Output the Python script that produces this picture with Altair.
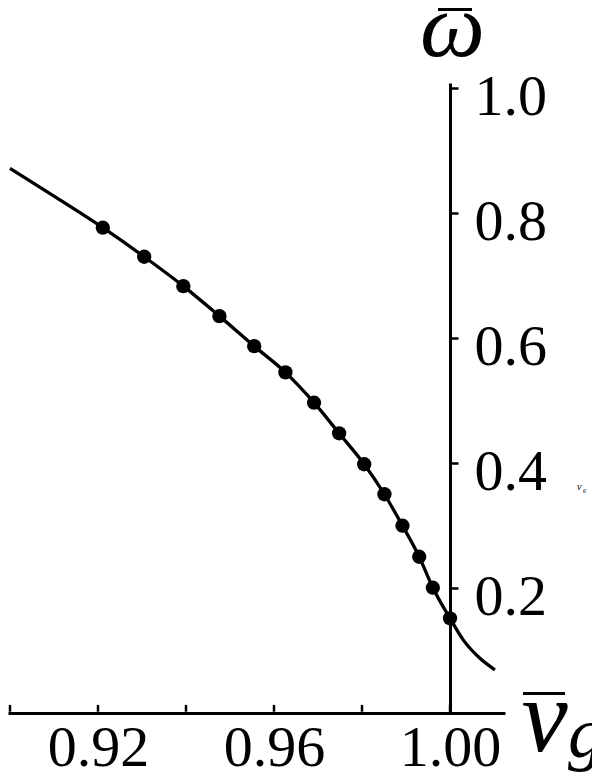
import altair as alt
import pandas as pd

# dots on the curve
dot_x = [0.9211, 0.9305, 0.9394, 0.9476, 0.9555, 0.9626, 0.9691, 0.9748,
         0.9805, 0.9851, 0.9892, 0.9930, 0.9961, 1.0000]
dot_y = [0.7765, 0.730, 0.683, 0.635, 0.587, 0.545, 0.4965, 0.4475,
         0.398, 0.350, 0.2997, 0.250, 0.2005, 0.1515]

# extra curve points outside the dotted range
head_x = [0.900, 0.910]
head_y = [0.8715, 0.827]
tail_x = [1.003, 1.0068, 1.0102]
tail_y = [0.117, 0.0875, 0.069]

x_tick_values = [0.90, 0.92, 0.94, 0.96, 0.98, 1.00]
x_label_values = [0.92, 0.96, 1.00]
y_label_values = [0.2, 0.4, 0.6, 0.8, 1.0]

X_DOMAIN = [0.89955, 1.0125]
Y_DOMAIN = [0.0, 1.008]

curve = pd.DataFrame({"x": head_x + dot_x + tail_x, "y": head_y + dot_y + tail_y})
dots = pd.DataFrame({"x": dot_x, "y": dot_y})
ticks = pd.DataFrame({"x": x_tick_values})

SERIF = "Liberation Serif"

xscale = alt.Scale(domain=X_DOMAIN, nice=False, zero=False)
yscale = alt.Scale(domain=Y_DOMAIN, nice=False, zero=False)

x_axis = alt.Axis(
    values=x_label_values, format=".2f", ticks=False, tickSize=0, grid=False,
    domainColor="black", domainWidth=3, labelFont=SERIF, labelFontSize=58,
    labelColor="black", labelPadding=6, labelFlush=False,
    title="v", titleFont=SERIF, titleFontStyle="italic",
    titleFontWeight="normal", titleFontSize=104, titleColor="black",
    titleAngle=0, titleAlign="center", titleBaseline="alphabetic",
    titleX=536, titleY=37,
)
y_axis = alt.Axis(
    orient="right", offset=-55, values=y_label_values, format=".1f",
    grid=False, domainColor="black", domainWidth=3, tickColor="black",
    tickSize=8, tickWidth=2.5, labelFont=SERIF, labelFontSize=58,
    labelColor="black", labelPadding=16, labelOffset=9, labelFlush=False,
    title="\u03c9", titleFont=SERIF, titleFontStyle="italic",
    titleFontWeight="normal", titleFontSize=92, titleColor="black",
    titleAngle=0, titleAlign="center", titleBaseline="alphabetic",
    titleX=2, titleY=-28,
)

line = alt.Chart(curve).mark_line(color="black", strokeWidth=3.3, interpolate="monotone").encode(
    x=alt.X("x:Q", scale=xscale, axis=x_axis),
    y=alt.Y("y:Q", scale=yscale, axis=y_axis),
)
pts = alt.Chart(dots).mark_circle(color="black", opacity=1, size=205).encode(
    x=alt.X("x:Q", scale=xscale),
    y=alt.Y("y:Q", scale=yscale),
)
xt = alt.Chart(ticks).mark_rule(color="black", strokeWidth=2.5).encode(
    x=alt.X("x:Q", scale=xscale),
    y=alt.datum(0.002),
    y2=alt.datum(0.013),
)

# overbars for the axis symbols
bar_omega = alt.Chart(pd.DataFrame({"k": [0]})).mark_rule(color="black", strokeWidth=3).encode(
    x=alt.value(430), x2=alt.value(464), y=alt.value(-73.5)
)
bar_v = alt.Chart(pd.DataFrame({"k": [0]})).mark_rule(color="black", strokeWidth=3).encode(
    x=alt.value(515), x2=alt.value(557), y=alt.value(610.5)
)

g_sub = alt.Chart(pd.DataFrame({"t": ["g"]})).mark_text(
    font=SERIF, fontStyle="italic", fontSize=72, align="left", baseline="alphabetic", color="black"
).encode(text="t:N", x=alt.value(560), y=alt.value(674))

tiny_v = alt.Chart(pd.DataFrame({"t": ["v"]})).mark_text(
    font=SERIF, fontStyle="italic", fontSize=10, align="left", baseline="alphabetic", color="black"
).encode(text="t:N", x=alt.value(569), y=alt.value(407))
tiny_g = alt.Chart(pd.DataFrame({"t": ["g"]})).mark_text(
    font=SERIF, fontStyle="italic", fontSize=6, align="left", baseline="alphabetic", color="black"
).encode(text="t:N", x=alt.value(575), y=alt.value(409))

chart = alt.layer(line, xt, pts, bar_omega, bar_v, g_sub, tiny_v, tiny_g).properties(
    width=497, height=630,
    autosize=alt.AutoSizeParams(type="none"),
    padding={"left": 0, "top": 75, "right": 87, "bottom": 62},
).configure_view(stroke=None)

chart.save("out.html", embed_options={"renderer": "svg", "actions": False})
